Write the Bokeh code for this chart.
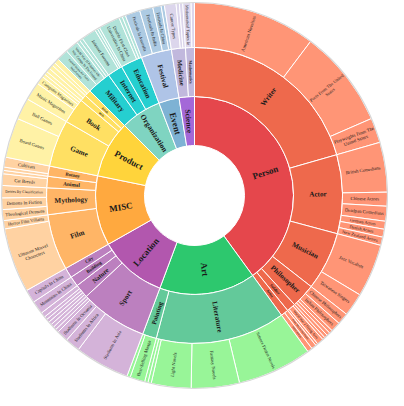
import math
from bokeh.plotting import figure
from bokeh.models import Range1d, ColumnDataSource
from bokeh.core.properties import value
from bokeh.embed import file_html
from bokeh.resources import INLINE

# ---------------- data ----------------
top_names = ["Person", "Art", "Location", "MISC", "Product", "Organization", "Event", "Science"]
top_colors = ["#e5474c", "#2dc86e", "#b257ae", "#ffa93f", "#ffd43b", "#7fd4c1", "#7eb2d4", "#a468d8"]
mid_colors = ["#ee694c", "#63c99a", "#bc80bf", "#ffb566", "#ffe063", "#25cfd0", "#afc4e7", "#c1b8dd"]
leaf_colors = ["#ff9576", "#98f598", "#d4b3d9", "#ffd2a2", "#fff2a6", "#b1e3d9", "#adcbe3", "#dcd6ec"]

mid_names = ["Writer", "Actor", "Musician", "Philosopher", "Soldier", "Artist",
             "Literature", "Painting",
             "Sport", "Nature", "Building", "City",
             "Film", "Mythology", "Animal", "Botany",
             "Game", "Book", "Web", "Drink",
             "Military", "Internet", "Education",
             "Festival",
             "Medicine", "Mathematics"]
mid_parents = ["Person"] * 6 + ["Art"] * 2 + ["Location"] * 4 + ["MISC"] * 4 + \
              ["Product"] * 4 + ["Organization"] * 3 + ["Event"] + ["Science"] * 2

leaf_names = [
    "American Novelists", "Poets From The United\nStates", "Playwrights From The\nUnited States",
    "British Comedians", "Chinese Actors", "Deadpan Comedians", "German Actors", "Danish Actors", "New Zealand Actors",
    "Jazz Vocalists", "Taiwanese Singers",
    "Chinese Philosophers", "Italian Philosophers", "", "", "",
    "", "World War 2 Flying Aces", "",
    "From The United States", "Video Artists",
    "Science Fiction Novels", "Fantasy Novels", "Light Novels", "", "",
    "Best-Selling Manga", "",
    "Stadiums In Asia", "Stadiums In Africa", "Stadiums In Oceania", "", "",
    "", "", "", "", "",
    "Mountains In China",
    "Capitals In China",
    "Ultimate Marvel\nCharacters", "Horror Film Villains",
    "Theological Demons", "Demons In Fiction", "Deities By Classification",
    "Cat Breeds", "",
    "", "Cultivars",
    "Board Games", "Ball Games",
    "Music Magazines", "Computer Magazines", "", "",
    "", "",
    "", "",
    "United States Air Force\nInstallations", "World War II Prisoner-Of-\nWar Camps In The United", "", "",
    "Internet Forums", "", "",
    "Double First-Class\nUniversities In China", "", "",
    "Festivals In Australia", "Festivals In India", "Festivals In China", "",
    "Cancer Types", "", "",
    "Mathematical Topics In", "",
]
leaf_parents = (["Writer"] * 3 + ["Actor"] * 6 + ["Musician"] * 2 + ["Philosopher"] * 5 +
                ["Soldier"] * 3 + ["Artist"] * 2 + ["Literature"] * 5 + ["Painting"] * 2 +
                ["Sport"] * 5 + ["Nature"] * 5 + ["Building"] + ["City"] +
                ["Film"] * 2 + ["Mythology"] * 3 + ["Animal"] * 2 + ["Botany"] * 2 +
                ["Game"] * 2 + ["Book"] * 4 + ["Web"] * 2 + ["Drink"] * 2 +
                ["Military"] * 4 + ["Internet"] * 3 + ["Education"] * 3 +
                ["Festival"] * 4 + ["Medicine"] * 3 + ["Mathematics"] * 2)
leaf_values = [37, 29.5, 7.5,
               15, 4.2, 4.5, 2.4, 2.4, 2.5,
               16, 7,
               3.5, 3, 1, 1, 1,
               0.8, 2, 0.7,
               1.5, 1.5,
               22.5, 14.5, 12, 1, 1,
               4.5, 1,
               16.5, 4.5, 3.5, 1, 1,
               1, 1, 1, 1, 1.5,
               4,
               4,
               19.5, 2.5,
               3.3, 3.5, 3.7,
               3.5, 1,
               1, 3,
               12, 6.5,
               5.5, 2.5, 1, 1,
               1.2, 1.3,
               1, 1.5,
               3.5, 4, 1, 1,
               4.5, 0.8, 0.7,
               6.5, 1, 1,
               4.5, 4, 2.5, 1,
               3.5, 1, 1,
               2.5, 1]

# ---------------- geometry ----------------
R = [50, 99, 148, 193]
total = float(sum(leaf_values))
mid_parent_of = dict(zip(mid_names, mid_parents))

leaf_rows = []
cum = 0.0
for name, par, v in zip(leaf_names, leaf_parents, leaf_values):
    a0 = cum / total * 360.0
    cum += v
    a1 = cum / total * 360.0
    leaf_rows.append((name, par, a0, a1))

mid_span = {}
for name, par, a0, a1 in leaf_rows:
    s = mid_span.get(par, (a0, a1))
    mid_span[par] = (min(s[0], a0), max(s[1], a1))
top_span = {}
for m in mid_names:
    t = mid_parent_of[m]
    a0, a1 = mid_span[m]
    s = top_span.get(t, (a0, a1))
    top_span[t] = (min(s[0], a0), max(s[1], a1))

top_index = {t: i for i, t in enumerate(top_names)}


def ring_source(rows, r_in, r_out, base, k, em_per_char):
    d = dict(start=[], end=[], color=[], x=[], y=[], text=[], angle=[], fs=[])
    rm = (r_in + r_out) / 2.0
    for text, top, a0, a1, col in rows:
        d["start"].append(math.radians(90 - a1))
        d["end"].append(math.radians(90 - a0))
        d["color"].append(col)
        th = (a0 + a1) / 2.0
        d["x"].append(rm * math.sin(math.radians(th)))
        d["y"].append(rm * math.cos(math.radians(th)))
        ang = 90 - th if th < 180 else 270 - th
        d["angle"].append(math.radians(ang))
        lines = text.split("\n")
        arc = rm * math.radians(a1 - a0)
        longest = max(len(l) for l in lines) if text else 1
        fs = min(base, k * arc / len(lines), 0.94 * (r_out - r_in) / (longest * em_per_char))
        if fs < 2.2:
            text = ""
        d["text"].append(text)
        d["fs"].append("%.2fpx" % fs)
    return ColumnDataSource(d)


top_rows = [(t, t, top_span[t][0], top_span[t][1], top_colors[top_index[t]]) for t in top_names]
mid_rows = [(m, mid_parent_of[m], mid_span[m][0], mid_span[m][1],
             mid_colors[top_index[mid_parent_of[m]]]) for m in mid_names]
leaf_rows2 = [(n, mid_parent_of[p], a0, a1, leaf_colors[top_index[mid_parent_of[p]]])
              for n, p, a0, a1 in leaf_rows]

src1 = ring_source(top_rows, R[0], R[1], 9.0, 0.65, 0.5)
src2 = ring_source(mid_rows, R[1], R[2], 7.2, 0.55, 0.52)
src3 = ring_source(leaf_rows2, R[2], R[3], 4.7, 0.6, 0.45)

p = figure(width=388, height=390, x_range=Range1d(-194, 194), y_range=Range1d(-195, 195),
           output_backend="svg", toolbar_location=None, min_border=0)
p.axis.visible = False
p.grid.visible = False
p.outline_line_color = None
p.background_fill_color = "white"

for src, (ri, ro) in [(src1, (R[0], R[1])), (src2, (R[1], R[2])), (src3, (R[2], R[3]))]:
    p.annular_wedge(x=0, y=0, inner_radius=ri, outer_radius=ro, start_angle="start", end_angle="end",
                    fill_color="color", line_color="white", line_width=1, source=src)

p.circle(x=0, y=0, radius=R[3], fill_color=None, line_color="#d8d8d8", line_width=1.2)

for src, bold in [(src1, True), (src2, True), (src3, False)]:
    p.text(x="x", y="y", text="text", angle="angle", source=src,
           text_font=value("Liberation Serif"), text_font_size="fs",
           text_font_style="bold" if bold else "normal", text_color="#1a1a1a",
           text_align="center", text_baseline="middle", text_line_height=1.1)

open("out.html", "w").write(file_html(p, INLINE))
